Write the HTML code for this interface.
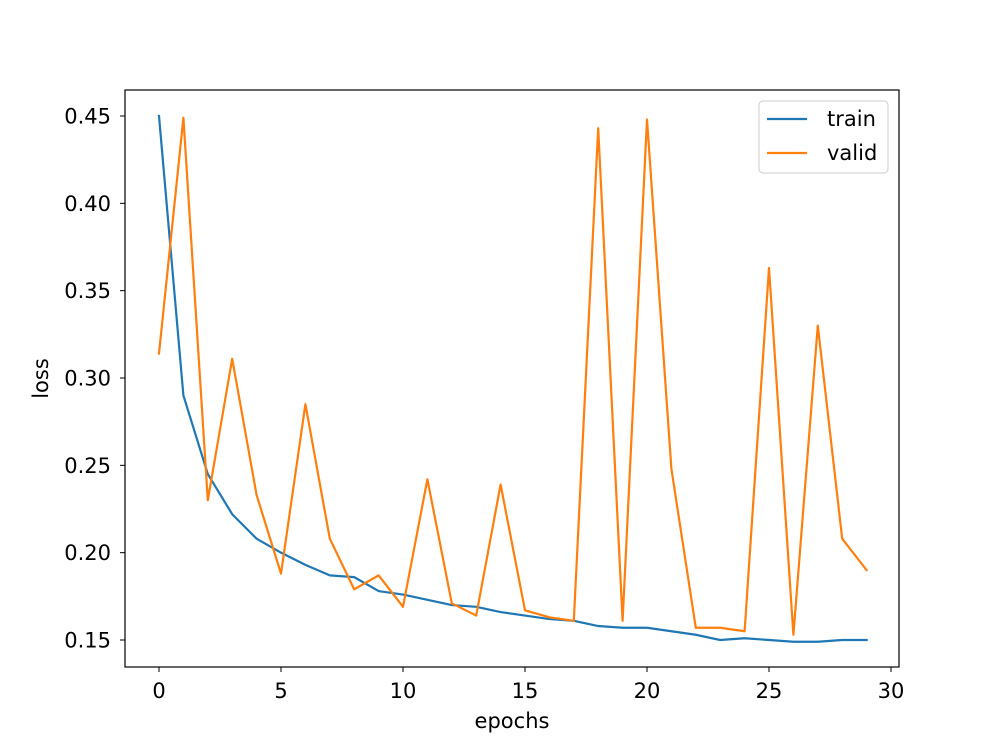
<!DOCTYPE html>
<html><head><meta charset="utf-8"><style>
body{margin:0;background:#fff;}
svg{display:block;font-family:"DejaVu Sans","Liberation Sans",sans-serif;}
</style></head><body>
<svg id="chart" width="999" height="750"></svg>
<script>
const epochs = [0,1,2,3,4,5,6,7,8,9,10,11,12,13,14,15,16,17,18,19,20,21,22,23,24,25,26,27,28,29];
const trainLoss = [0.450,0.290,0.245,0.222,0.208,0.200,0.193,0.187,0.186,0.178,0.176,0.173,0.170,0.169,0.166,0.164,0.162,0.161,0.158,0.157,0.157,0.155,0.153,0.150,0.151,0.150,0.149,0.149,0.150,0.150];
const validLoss = [0.314,0.449,0.230,0.311,0.233,0.188,0.285,0.208,0.179,0.187,0.169,0.242,0.171,0.164,0.239,0.167,0.163,0.161,0.443,0.161,0.448,0.248,0.157,0.157,0.155,0.363,0.153,0.330,0.208,0.190];
const xTicks = [0,5,10,15,20,25,30];
const yTicks = [0.15,0.20,0.25,0.30,0.35,0.40,0.45];

const NS='http://www.w3.org/2000/svg';
const svg=document.getElementById('chart');
const L=125,R=899,T=90,B=667;
const FS=21;
const xs=v=>159+(v-0)*(891-159)/30;
const ys=v=>640-(v-0.15)*(640-116)/0.30;
function mk(tag,attrs,parent){const e=document.createElementNS(NS,tag);for(const k in attrs)e.setAttribute(k,attrs[k]);(parent||svg).appendChild(e);return e;}

const gx=mk('g',{});


xTicks.forEach(t=>{
  mk('line',{x1:xs(t),x2:xs(t),y1:B,y2:B+5,stroke:'#000','stroke-width':1},gx);
  const tx=mk('text',{x:xs(t),y:B+31,'text-anchor':'middle','font-size':FS,fill:'#000'},gx);
  tx.textContent=t;
  
  
});
const gy=mk('g',{});


yTicks.forEach(t=>{
  mk('line',{x1:L-5,x2:L,y1:ys(t),y2:ys(t),stroke:'#000','stroke-width':1},gy);
  const tx=mk('text',{x:L-14,y:ys(t)+7.5,'text-anchor':'end','font-size':FS,fill:'#000'},gy);
  tx.textContent=t.toFixed(2);
  
  
});

function line(vals,color,name){
  const p=mk('polyline',{points:vals.map((v,i)=>xs(epochs[i])+','+ys(v)).join(' '),fill:'none',stroke:color,'stroke-width':2.2,'stroke-linejoin':'round','stroke-linecap':'square'});
  
  
}
line(trainLoss,'#1f77b4','train-line');
line(validLoss,'#ff7f0e','valid-line');

const frame=mk('rect',{x:L,y:T,width:R-L,height:B-T,fill:'none',stroke:'#000','stroke-width':1.2});



const xl=mk('text',{x:(L+R)/2,y:728,'text-anchor':'middle','font-size':FS});
xl.textContent='epochs';


const cy=(T+B)/2;
const yl=mk('text',{x:48,y:cy,'text-anchor':'middle','font-size':FS,transform:'rotate(-90 48 '+cy+')'});
yl.textContent='loss';



const lg=mk('g',{});


mk('rect',{x:759,y:101,width:129,height:72,rx:4,fill:'#fff',stroke:'#ccc','stroke-width':1},lg);
[['train','#1f77b4',119],['valid','#ff7f0e',153]].forEach(([n,c,y])=>{
  const e=mk('g',{},lg);
  
  
  mk('line',{x1:767,x2:807,y1:y,y2:y,stroke:c,'stroke-width':2.2},e);
  const t=mk('text',{x:827,y:y+7,'font-size':FS},e);
  t.textContent=n;
});
</script>
</body></html>
